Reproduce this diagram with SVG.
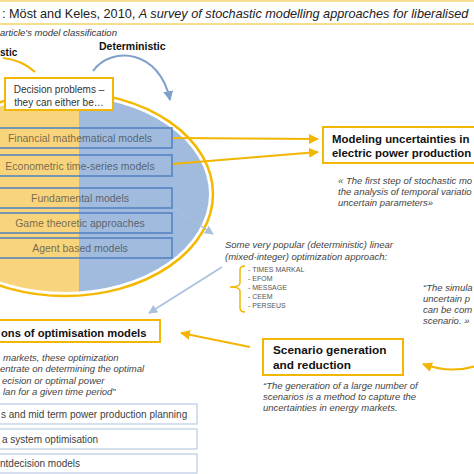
<svg xmlns="http://www.w3.org/2000/svg" width="474" height="474" viewBox="0 0 474 474">
<style>
.t{font-family:"Liberation Sans",Arial,sans-serif}
.b{font-family:"Liberation Sans",Arial,sans-serif;font-weight:bold;fill:#111}
.q{font-family:"Liberation Sans",Arial,sans-serif;font-style:italic;fill:#444;font-size:9.5px}
.ybox{fill:#fff;stroke:#f2b705;stroke-width:2}
.mbox{fill:none;stroke:#4f7fbf;stroke-opacity:0.75;stroke-width:2}
.mt{font-family:"Liberation Sans",Arial,sans-serif;font-size:10.5px;fill:#333;fill-opacity:0.68;text-anchor:middle}
.gbox{fill:#fff;stroke:#c8d5e8;stroke-width:1.5}
.gt{font-family:"Liberation Sans",Arial,sans-serif;font-size:10px;fill:#404040}
.yl{fill:none;stroke:#f3b600;stroke-width:2}
.bl{fill:none;stroke:#a8bfdd;stroke-width:1.5}
.li{font-family:"Liberation Sans",Arial,sans-serif;font-size:7px;fill:#555}
</style>
<defs>
<marker id="ya" viewBox="0 0 10 10" refX="9" refY="5" markerWidth="5" markerHeight="5" orient="auto"><path d="M0,0 L10,5 L0,10 z" fill="#f3b600"/></marker>
<marker id="ba" viewBox="0 0 10 10" refX="9" refY="5" markerWidth="5" markerHeight="5" orient="auto"><path d="M0,0 L10,5 L0,10 z" fill="#7f9fcc"/></marker>
<marker id="lba" viewBox="0 0 10 10" refX="9" refY="5" markerWidth="6" markerHeight="6" orient="auto"><path d="M0,0 L10,5 L0,10 z" fill="#a8bfdd"/></marker>
<clipPath id="ell"><ellipse cx="65" cy="194" rx="144" ry="98"/></clipPath>
</defs>
<rect width="474" height="474" fill="#fff"/>

<g id="title">
<rect x="-5" y="1" width="490" height="23" fill="#fff" stroke="#f2d46a" stroke-width="1.5"/>
<text class="t" x="2" y="18" font-size="12.7" fill="#222">: Möst and Keles, 2010, <tspan font-style="italic">A survey of stochastic modelling approaches for liberalised</tspan></text>
<text class="t" x="0" y="36" font-size="9.5" font-style="italic" fill="#333">article's model classification</text>
</g>

<g id="labels">
<text class="b" x="0" y="56" font-size="10">stic</text>
<text class="b" x="99" y="50" font-size="10.5">Deterministic</text>
</g>

<g id="ellipse">
<g clip-path="url(#ell)">
<rect x="-10" y="80" width="89" height="230" fill="#f8d47c"/>
<rect x="79" y="80" width="150" height="230" fill="#a0bbdd"/>
</g>
<ellipse cx="65" cy="194" rx="148" ry="102" fill="none" stroke="#f5b800" stroke-width="2.5"/>
</g>

<g id="connectors">
<path class="yl" d="M3,58 Q22,60 35,72"/>
<path d="M93,71 C112,45 160,50 170,100" fill="none" stroke="#7f9fcc" stroke-width="2" marker-end="url(#ba)"/>
<path class="yl" d="M172,138 L318,139" marker-end="url(#ya)"/>
<path class="yl" d="M172,164 L318,152" marker-end="url(#ya)"/>
<path class="bl" d="M162,200 L213,234" marker-end="url(#lba)"/>
<path class="bl" d="M222,267 L149,313" marker-end="url(#lba)"/>
<path class="yl" d="M250,347 L181,333" marker-end="url(#ya)"/>
<path class="yl" d="M476,366 Q450,374 423,364" marker-end="url(#ya)"/>
<path d="M245,266 Q240,266 240,270 L240,283 Q240,287 230,287 Q240,287 240,291 L240,308 Q240,312 245,312" fill="none" stroke="#f3b600" stroke-width="1.5"/>
</g>

<g id="decision">
<rect class="ybox" x="5" y="78" width="108" height="32"/>
<text class="t" x="59" y="93" font-size="10" fill="#333" text-anchor="middle">Decision problems –</text>
<text class="t" x="59" y="106" font-size="10" fill="#333" text-anchor="middle">they can either be…</text>
</g>

<g id="m-financial"><rect class="mbox" x="-5" y="128" width="177" height="20"/><text class="mt" x="80" y="142">Financial mathematical models</text></g>
<g id="m-econometric"><rect class="mbox" x="-5" y="155" width="177" height="21"/><text class="mt" x="80" y="170">Econometric time-series models</text></g>
<g id="m-fundamental"><rect class="mbox" x="-5" y="188" width="177" height="20"/><text class="mt" x="80" y="202">Fundamental models</text></g>
<g id="m-game"><rect class="mbox" x="-5" y="213" width="177" height="20"/><text class="mt" x="80" y="227">Game theoretic approaches</text></g>
<g id="m-agent"><rect class="mbox" x="-5" y="238" width="177" height="20"/><text class="mt" x="80" y="252">Agent based models</text></g>

<g id="modeling">
<rect class="ybox" x="323" y="127" width="170" height="36"/>
<text class="b" x="332" y="143" font-size="11.4">Modeling uncertainties in</text>
<text class="b" x="332" y="157" font-size="11.4">electric power production</text>
<text class="q" x="338" y="184">« The first step of stochastic mo</text>
<text class="q" x="338" y="195">the analysis of temporal variatio</text>
<text class="q" x="338" y="206">uncertain parameters»</text>
</g>

<g id="popular">
<text class="q" x="225" y="248">Some very popular (deterministic) linear</text>
<text class="q" x="225" y="260">(mixed-integer) optimization approach:</text>
<text class="li" x="248" y="271.5">- TIMES MARKAL</text>
<text class="li" x="248" y="280.5">- EFOM</text>
<text class="li" x="248" y="289.5">- MESSAGE</text>
<text class="li" x="248" y="298.5">- CEEM</text>
<text class="li" x="248" y="307.5">- PERSEUS</text>
</g>

<g id="simulation">
<text class="q" x="423" y="291">“The simula</text>
<text class="q" x="423" y="302">uncertain p</text>
<text class="q" x="423" y="313">can be com</text>
<text class="q" x="423" y="324">scenario. »</text>
</g>

<g id="applications">
<rect class="ybox" x="-5" y="320" width="165" height="22"/>
<text class="b" x="1" y="337" font-size="11.2">ons of optimisation models</text>
<text class="q" x="3" y="361">markets, these optimization</text>
<text class="q" x="0" y="372">entrate on determining the optimal</text>
<text class="q" x="2" y="384">ecision or optimal power</text>
<text class="q" x="3" y="395">lan for a given time period”</text>
</g>

<g id="scenario">
<rect class="ybox" x="263" y="339" width="140" height="36"/>
<text class="b" x="273" y="354" font-size="11.8">Scenario generation</text>
<text class="b" x="273" y="369" font-size="11.8">and reduction</text>
<text class="q" x="263" y="389">“The generation of a large number of</text>
<text class="q" x="263" y="400">scenarios is a method to capture the</text>
<text class="q" x="263" y="411">uncertainties in energy markets.</text>
</g>

<g id="b-planning"><rect class="gbox" x="-5" y="404" width="202" height="20"/><text class="gt" x="1" y="418">s and mid term power production planning</text></g>
<g id="b-system"><rect class="gbox" x="-5" y="429" width="202" height="20"/><text class="gt" x="2" y="443">a system optimisation</text></g>
<g id="b-decision"><rect class="gbox" x="-5" y="454" width="202" height="19"/><text class="gt" x="0" y="467">ntdecision models</text></g>
</svg>
